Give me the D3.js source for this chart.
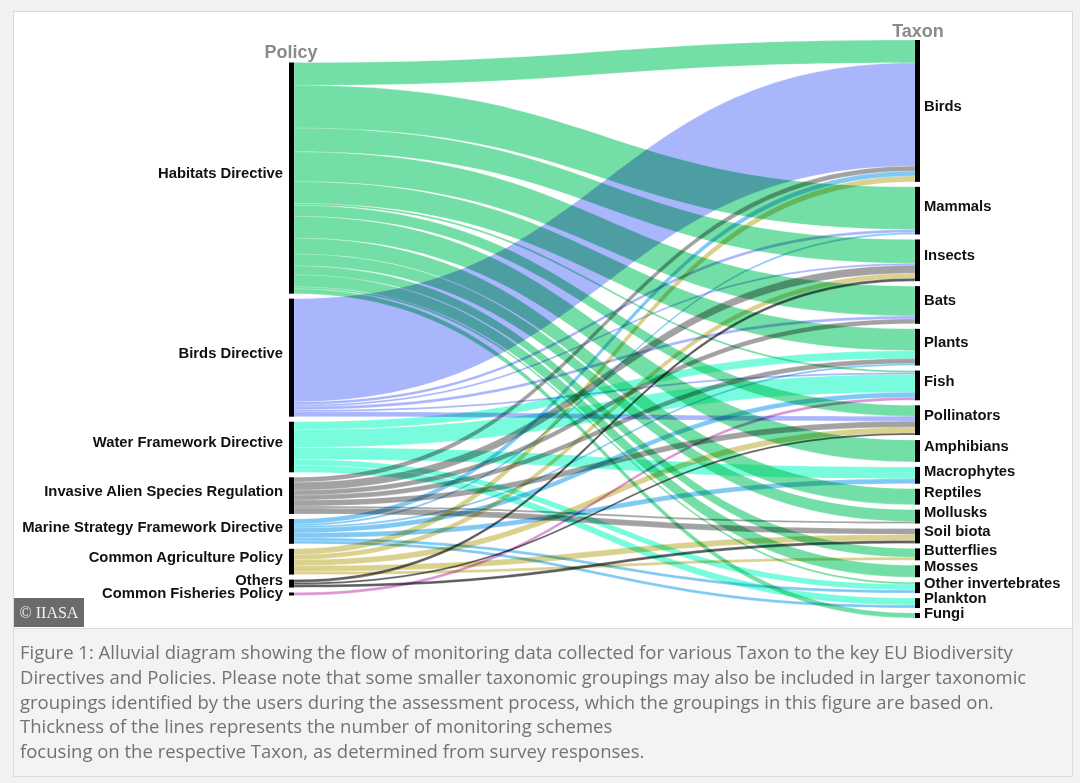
<!DOCTYPE html>
<html lang="en">
<head>
<meta charset="UTF-8">
<title>Alluvial diagram - Policy to Taxon</title>
<script src="https://d3js.org/d3.v7.min.js"></script>
<style>
    body {
        margin: 0;
        background-color: #f2f2f2;
    }
    .node-label {
        font-family: "Liberation Sans", Arial, sans-serif;
        font-weight: bold;
        font-size: 14.8px;
        fill: #111;
    }
    .col-title {
        font-family: "Liberation Sans", Arial, sans-serif;
        font-weight: bold;
        font-size: 18px;
        fill: #8a8a8a;
    }
    .caption {
        font-family: "Open Sans", sans-serif;
        font-size: 18.5px;
        fill: #727272;
    }
    .link {
        mix-blend-mode: multiply;
    }
</style>
</head>
<body>
<script>
// Left column: policies, right column: taxonomic groups
const policies = ["Habitats Directive", "Birds Directive", "Water Framework Directive",
    "Invasive Alien Species Regulation", "Marine Strategy Framework Directive",
    "Common Agriculture Policy", "Others", "Common Fisheries Policy"];
const policyColors = ["#73dea5", "#a9b6fb", "#79fcdd", "#a2a2a2", "#80c9f4",
    "#dbd18f", "#5e5e5e", "#d996d6"];

const taxa = ["Birds", "Mammals", "Insects", "Bats", "Plants", "Fish", "Pollinators",
    "Amphibians", "Macrophytes", "Reptiles", "Mollusks", "Soil biota", "Butterflies",
    "Mosses", "Other invertebrates", "Plankton", "Fungi"];

// flows from each policy to each taxon (same order as taxa)
const habitatsFlows  = [23, 43, 24, 30, 22, 2, 11, 22, 0, 16, 12, 0, 9, 12, 2, 0, 5];
const birdsFlows     = [104, 3, 2, 3, 0, 2, 5, 0, 0, 0, 0, 0, 0, 0, 0, 0, 0];
const waterFlows     = [0, 0, 0, 0, 8, 18, 0, 0, 12, 0, 0, 0, 0, 0, 6, 7, 0];
const invasiveFlows  = [5, 0, 8, 5, 5, 0, 6, 0, 0, 0, 2, 6, 0, 0, 0, 0, 0];
const marineFlows    = [5, 2, 0, 0, 2, 5, 0, 0, 5, 0, 0, 0, 0, 0, 3, 3, 0];
const agriFlows      = [6, 0, 5, 0, 0, 0, 6, 0, 0, 0, 0, 6, 3, 0, 0, 0, 0];
const othersFlows    = [0, 0, 3, 0, 0, 0, 2, 0, 0, 0, 0, 3, 0, 0, 0, 0, 0];
const fisheriesFlows = [0, 0, 0, 0, 0, 3, 0, 0, 0, 0, 0, 0, 0, 0, 0, 0, 0];

const flowTable = [habitatsFlows, birdsFlows, waterFlows, invasiveFlows,
    marineFlows, agriFlows, othersFlows, fisheriesFlows];

const captionLines = [
    "Figure 1: Alluvial diagram showing the flow of monitoring data collected for various Taxon to the key EU Biodiversity",
    "Directives and Policies. Please note that some smaller taxonomic groupings may also be included in larger taxonomic",
    "groupings identified by the users during the assessment process, which the groupings in this figure are based on.",
    "Thickness of the lines represents the number of monitoring schemes",
    "focusing on the respective Taxon, as determined from survey responses."
];

const width = 1080, height = 783;
const panel = {x: 13, y: 11, w: 1059, h: 617};
const plotTop = 40, plotBottom = 618;
const nodeWidth = 5, nodePad = 5;

const svg = d3.select("body").append("svg")
    .attr("width", width)
    .attr("height", height)
    .style("display", "block");

// white chart panel and grey caption box
svg.append("rect")
    .attr("x", panel.x + 0.5).attr("y", panel.y + 0.5)
    .attr("width", panel.w).attr("height", panel.h)
    .attr("fill", "#fff").attr("stroke", "#d8d8dc");
svg.append("rect")
    .attr("x", panel.x + 0.5).attr("y", panel.y + panel.h + 0.5)
    .attr("width", panel.w).attr("height", 148)
    .attr("fill", "#f3f3f3").attr("stroke", "#dcdcdf");

const chart = svg.append("g").style("isolation", "isolate");

// build nodes and links
const links = [];
flowTable.forEach((row, i) => {
    row.forEach((v, j) => {
        if (v > 0) links.push({source: i, target: j, value: v});
    });
});

const leftNodes = policies.map((name, i) => ({name, col: 0, index: i,
    value: d3.sum(flowTable[i])}));
const rightNodes = taxa.map((name, j) => ({name, col: 1, index: j,
    value: d3.sum(flowTable, r => r[j])}));

const total = d3.sum(leftNodes, d => d.value);
const maxCount = Math.max(leftNodes.length, rightNodes.length);
const ky = (plotBottom - plotTop - (maxCount - 1) * nodePad) / total;
const yValue = d3.scaleLinear().domain([0, total]).range([0, total * ky]);
const x = d3.scaleLinear().domain([0, 1]).range([289, 915]);
const centerY = (plotTop + plotBottom) / 2;

function stack(nodes) {
    const h = yValue(d3.sum(nodes, d => d.value)) + (nodes.length - 1) * nodePad;
    let y = centerY - h / 2;
    nodes.forEach(n => {
        n.y0 = y;
        n.y1 = y + yValue(n.value);
        y = n.y1 + nodePad;
    });
}
stack(leftNodes);
stack(rightNodes);

// link offsets: at the source ordered by target, at the target ordered by source
leftNodes.forEach(n => {
    let y = n.y0;
    links.filter(l => l.source === n.index)
        .sort((a, b) => a.target - b.target)
        .forEach(l => { l.sy0 = y; y += yValue(l.value); l.sy1 = y; });
});
rightNodes.forEach(n => {
    let y = n.y0;
    links.filter(l => l.target === n.index)
        .sort((a, b) => a.source - b.source)
        .forEach(l => { l.ty0 = y; y += yValue(l.value); l.ty1 = y; });
});

function linkShape(l) {
    const x0 = x(0) + nodeWidth, x1 = x(1);
    const xm = (x0 + x1) / 2;
    const p = d3.path();
    p.moveTo(x0, l.sy0);
    p.bezierCurveTo(xm, l.sy0, xm, l.ty0, x1, l.ty0);
    p.lineTo(x1, l.ty1);
    p.bezierCurveTo(xm, l.ty1, xm, l.sy1, x0, l.sy1);
    p.closePath();
    return p.toString();
}

chart.append("g")
    .selectAll("path")
    .data(links)
    .join("path")
    .attr("class", "link")
    .attr("d", linkShape)
    .attr("fill", d => policyColors[d.source])
    .attr("stroke", "#fff")
    .attr("stroke-width", 0.4)
    .attr("stroke-opacity", 0.7);

// node bars
const allNodes = leftNodes.concat(rightNodes);
chart.append("g")
    .selectAll("rect")
    .data(allNodes)
    .join("rect")
    .attr("x", d => d.col === 0 ? x(0) : x(1))
    .attr("y", d => d.y0)
    .attr("width", nodeWidth)
    .attr("height", d => Math.max(1, d.y1 - d.y0))
    .attr("fill", "#000");

// node labels (small nodes are lifted less)
svg.append("g")
    .selectAll("text")
    .data(allNodes)
    .join("text")
    .attr("class", "node-label")
    .attr("x", d => d.col === 0 ? x(0) - 6 : x(1) + nodeWidth + 4)
    .attr("y", d => (d.y0 + d.y1) / 2 - Math.min(5, (d.y1 - d.y0) / 2))
    .attr("dy", "0.35em")
    .attr("text-anchor", d => d.col === 0 ? "end" : "start")
    .text(d => d.name);

// column titles
svg.append("text")
    .attr("class", "col-title")
    .attr("x", x(0) + 2)
    .attr("y", leftNodes[0].y0 - 5)
    .attr("text-anchor", "middle")
    .text("Policy");
svg.append("text")
    .attr("class", "col-title")
    .attr("x", x(1) + 3)
    .attr("y", rightNodes[0].y0 - 3)
    .attr("text-anchor", "middle")
    .text("Taxon");

// copyright badge
svg.append("rect")
    .attr("x", panel.x + 1).attr("y", 598)
    .attr("width", 70).attr("height", 29)
    .attr("fill", "#6b6b6b");
svg.append("text")
    .attr("x", panel.x + 36).attr("y", 618)
    .attr("text-anchor", "middle")
    .style("font-family", "'Liberation Serif', serif")
    .style("font-size", "16px")
    .attr("fill", "#f0f0f0")
    .text("© IIASA");

// caption
svg.append("g")
    .selectAll("text")
    .data(captionLines)
    .join("text")
    .attr("class", "caption")
    .attr("x", 20)
    .attr("y", (d, i) => 659 + i * 24.8)
    .text(d => d);
</script>
</body>
</html>
